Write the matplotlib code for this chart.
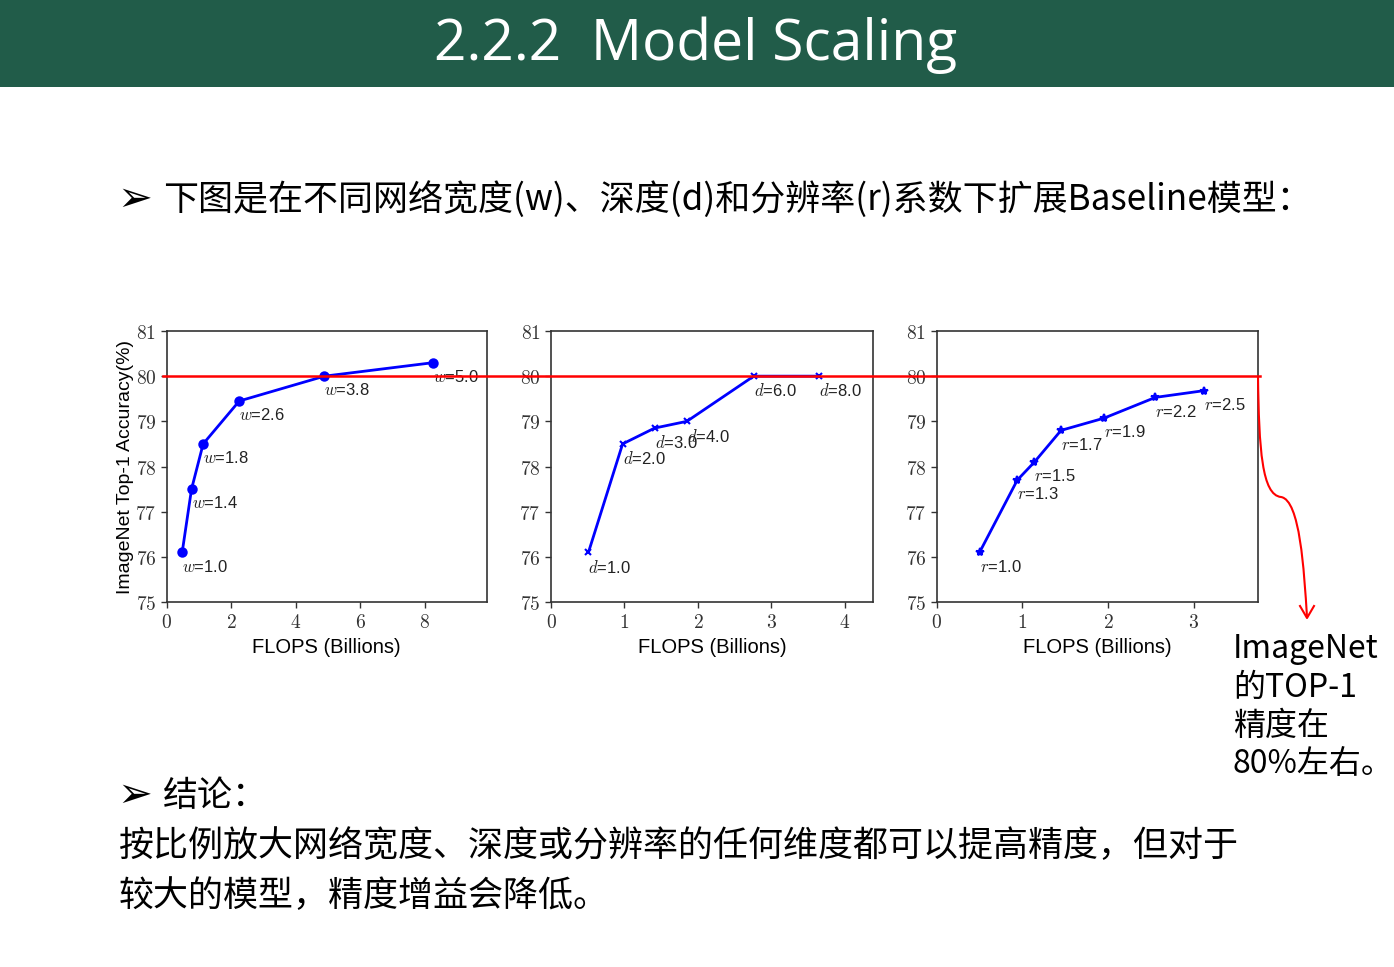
import matplotlib
matplotlib.use("Agg")
import matplotlib.pyplot as plt
from matplotlib.ticker import FuncFormatter, MultipleLocator
from matplotlib.lines import Line2D
from matplotlib.path import Path
from matplotlib.patches import PathPatch, Rectangle

plt.rcParams['font.family'] = ['Noto Sans CJK SC', 'DejaVu Sans']
plt.rcParams['mathtext.fontset'] = 'cm'

# ---- data ----
w_flops = [0.48, 0.77, 1.13, 2.25, 4.89, 8.27]
w_acc = [76.1, 77.5, 78.5, 79.45, 80.0, 80.3]
w_labels = ['1.0', '1.4', '1.8', '2.6', '3.8', '5.0']

d_flops = [0.51, 0.975, 1.41, 1.85, 2.76, 3.65]
d_acc = [76.1, 78.5, 78.85, 79.0, 80.0, 80.0]
d_labels = ['1.0', '2.0', '3.0', '4.0', '6.0', '8.0']

r_flops = [0.50, 0.94, 1.14, 1.45, 1.95, 2.55, 3.12]
r_acc = [76.1, 77.7, 78.1, 78.8, 79.07, 79.53, 79.68]
r_labels = ['1.0', '1.3', '1.5', '1.7', '1.9', '2.2', '2.5']

ref_acc = 80.0

W, H = 1394, 967
fig = plt.figure(figsize=(W / 100, H / 100), dpi=100)
fig.patch.set_facecolor('white')

def fx(px):
    return px / W

def fy(py):
    return 1 - py / H

SANS = ['Liberation Sans', 'DejaVu Sans']

# header bar
fig.add_artist(Rectangle((0, fy(87)), 1, 87 / H, transform=fig.transFigure,
                         facecolor='#215c49', edgecolor='none'))
fig.text(fx(696), fy(45), '2.2.2  Model Scaling', color='white', fontsize=41,
         ha='center', va='center', family=['Open Sans', 'DejaVu Sans'])

# bullets
arrow_kw = dict(fontsize=30, va='center', ha='left', family=['DejaVu Sans'], color='black')
fig.text(fx(117), fy(199), '➢', **arrow_kw)
fig.text(fx(163), fy(200), '下图是在不同网络宽度(w)、深度(d)和分辨率(r)系数下扩展Baseline模型：',
         fontsize=25.2, va='center', ha='left', color='black')
fig.text(fx(117), fy(795), '➢', **arrow_kw)
fig.text(fx(163), fy(796), '结论：', fontsize=25.2, va='center', ha='left', color='black')
fig.text(fx(119), fy(846), '按比例放大网络宽度、深度或分辨率的任何维度都可以提高精度，但对于',
         fontsize=25.2, va='center', ha='left', color='black')
fig.text(fx(119), fy(896), '较大的模型，精度增益会降低。',
         fontsize=25.2, va='center', ha='left', color='black')

for i, s in enumerate(['ImageNet', '的TOP-1', '精度在', '80%左右。']):
    fig.text(fx(1233), fy(649 + i * 38.5), s, fontsize=23, va='center', ha='left', color='black')

# axes
panels = [
    (166.7, 486.7, w_flops, w_acc, w_labels, 'w', 'o', 6, (0, 9.92), [0, 2, 4, 6, 8]),
    (551.0, 872.7, d_flops, d_acc, d_labels, 'd', 'x', 5, (0, 4.38), [0, 1, 2, 3, 4]),
    (936.7, 1258.3, r_flops, r_acc, r_labels, 'r', '*', 6, (0, 3.75), [0, 1, 2, 3]),
]
top, bottom = 331, 602
axes = []
tick_fmt = FuncFormatter(lambda v, p: f'${v:g}$')
for (x0, x1, xs, ys, labs, sym, mk, ms, xlim, xt) in panels:
    ax = fig.add_axes([fx(x0), fy(bottom), (x1 - x0) / W, (bottom - top) / H])
    ax.plot(xs, ys, color='#0000ff', lw=2, marker=mk, ms=ms, mew=1.5)
    for xv, yv, lb in zip(xs, ys, labs):
        ax.annotate(f'${sym}$={lb}', (xv, yv), xytext=(0, -4.5), textcoords='offset points',
                    ha='left', va='top', fontsize=12, color='#222222', family=SANS)
    ax.set_xlim(*xlim)
    ax.set_ylim(75, 81)
    ax.set_xticks(xt)
    ax.yaxis.set_major_locator(MultipleLocator(1))
    ax.xaxis.set_major_formatter(tick_fmt)
    ax.yaxis.set_major_formatter(tick_fmt)
    ax.tick_params(labelsize=14, length=4, width=1, color='#333333', labelcolor='#333333')
    for s in ax.spines.values():
        s.set_color('#333333')
        s.set_linewidth(1.2)
    ax.set_xlabel('FLOPS (Billions)', fontsize=14.5, family=SANS, labelpad=3)
    axes.append(ax)

axes[0].set_ylabel('ImageNet Top-1 Accuracy(%)', fontsize=14, family=SANS, labelpad=1)

# red reference line across panels
fig.canvas.draw()
y80 = fig.transFigure.inverted().transform(axes[0].transData.transform((0, ref_acc)))[1]
fig.add_artist(Line2D([fx(163), fx(1260)], [y80, y80], transform=fig.transFigure,
                      color='#ff0000', lw=1.8, zorder=10))

# red curved arrow
ypx = (1 - y80) * H
verts = [(1258, ypx), (1259, 450), (1262, 495), (1281, 497),
         (1300, 500), (1304, 570), (1307, 617)]
codes = [Path.MOVETO, Path.CURVE4, Path.CURVE4, Path.CURVE4, Path.CURVE4, Path.CURVE4, Path.CURVE4]
vf = [(fx(a), fy(b)) for a, b in verts]
fig.add_artist(PathPatch(Path(vf, codes), transform=fig.transFigure, facecolor='none',
                         edgecolor='#ff0000', lw=1.5, zorder=10))
fig.add_artist(Line2D([fx(1300), fx(1307), fx(1314)], [fy(606), fy(618), fy(606)],
                      transform=fig.transFigure, color='#ff0000', lw=1.5, zorder=10))

fig.savefig('out.png', dpi=100)
